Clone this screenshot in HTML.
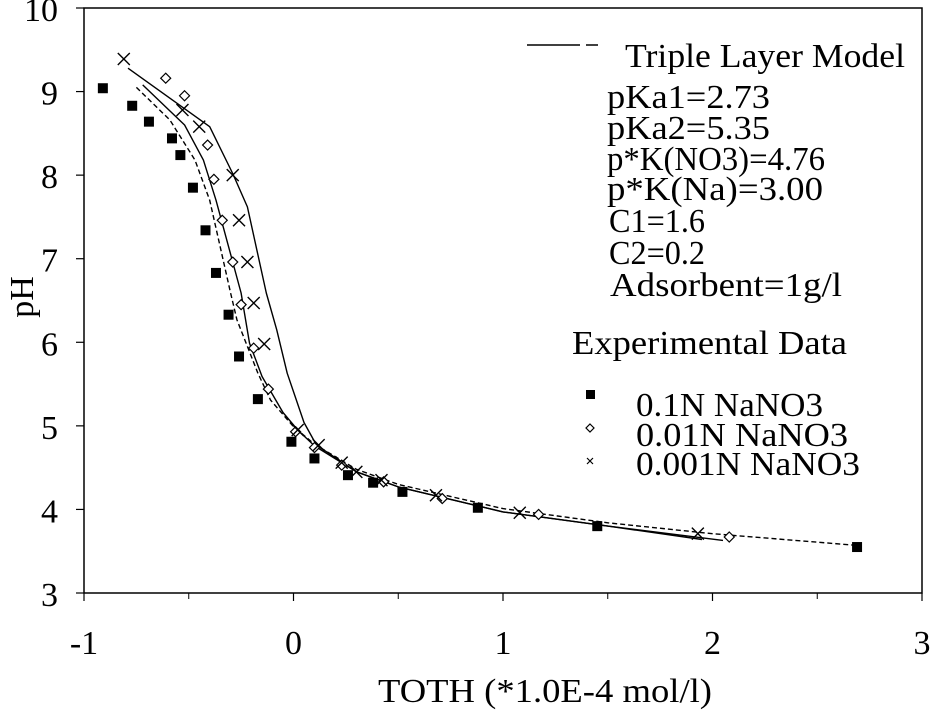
<!DOCTYPE html>
<html><head><meta charset="utf-8">
<style>
html,body{margin:0;padding:0;background:#fff;}
svg{display:block;font-family:"Liberation Serif",serif;}
</style></head>
<body>
<svg id="chart" width="943" height="714" viewBox="0 0 943 714">
<g id="axes"></g>
<g id="curves"></g>
<g id="points"></g>
<g id="legend" font-size="34">
  <line x1="527" y1="45" x2="580" y2="45" stroke="#000" stroke-width="1.5"/>
  <line x1="586" y1="45" x2="598" y2="45" stroke="#000" stroke-width="1.5"/>
  <text x="625" y="67" textLength="280" lengthAdjust="spacingAndGlyphs">Triple Layer Model</text>
  <text x="607" y="108" textLength="163" lengthAdjust="spacingAndGlyphs">pKa1=2.73</text>
  <text x="607" y="139" textLength="163" lengthAdjust="spacingAndGlyphs">pKa2=5.35</text>
  <text x="607" y="170" textLength="218" lengthAdjust="spacingAndGlyphs">p*K(NO3)=4.76</text>
  <text x="607" y="200" textLength="216" lengthAdjust="spacingAndGlyphs">p*K(Na)=3.00</text>
  <text x="609" y="232" textLength="96" lengthAdjust="spacingAndGlyphs">C1=1.6</text>
  <text x="609" y="264" textLength="96" lengthAdjust="spacingAndGlyphs">C2=0.2</text>
  <text x="610" y="296" textLength="232" lengthAdjust="spacingAndGlyphs">Adsorbent=1g/l</text>
  <text x="572" y="354" textLength="275" lengthAdjust="spacingAndGlyphs">Experimental Data</text>
  <rect x="586" y="390" width="9" height="9" fill="#000"/>
  <text x="636" y="416" textLength="187" lengthAdjust="spacingAndGlyphs">0.1N NaNO3</text>
  <path d="M590 424 L594 428 L590 432 L586 428 Z" fill="#fff" stroke="#000" stroke-width="1.2"/>
  <text x="636" y="446" textLength="212" lengthAdjust="spacingAndGlyphs">0.01N NaNO3</text>
  <path d="M587 458 L593 464 M593 458 L587 464" stroke="#000" stroke-width="1.2"/>
  <text x="636" y="475" textLength="224" lengthAdjust="spacingAndGlyphs">0.001N NaNO3</text>
</g>
<text x="378" y="702" font-size="34" textLength="334" lengthAdjust="spacingAndGlyphs">TOTH (*1.0E-4 mol/l)</text>
<text transform="translate(33,297) rotate(-90)" font-size="34" text-anchor="middle">pH</text>
</svg>
<script>
// ---- data ----
const xTicks = [-1, 0, 1, 2, 3];
const yTicks = [3, 4, 5, 6, 7, 8, 9, 10];
const sq_x = [-0.91,-0.77,-0.69,-0.58,-0.54,-0.48,-0.42,-0.37,-0.31,-0.26,-0.17,-0.01,0.10,0.26,0.38,0.52,0.88,1.45,2.69];
const sq_y = [9.04,8.83,8.64,8.44,8.24,7.85,7.34,6.83,6.33,5.83,5.32,4.81,4.61,4.41,4.32,4.21,4.02,3.80,3.55];
const di_x = [-0.61,-0.52,-0.41,-0.38,-0.34,-0.29,-0.25,-0.19,-0.12,0.01,0.10,0.23,0.43,0.71,1.17,2.08];
const di_y = [9.16,8.95,8.36,7.95,7.46,6.96,6.45,5.93,5.44,4.93,4.74,4.53,4.33,4.13,3.94,3.67];
const cx_x = [-0.81,-0.53,-0.45,-0.29,-0.26,-0.22,-0.19,-0.14,0.02,0.12,0.23,0.30,0.42,0.68,1.08,1.93];
const cx_y = [9.39,8.78,8.58,8.00,7.46,6.96,6.47,5.98,4.95,4.77,4.56,4.45,4.35,4.17,3.96,3.71];
const upper_x = [-0.79,-0.40,-0.29,-0.22,-0.13,-0.08,-0.03,0.05,0.11,0.30,0.50,1.00,1.50,1.95];
const upper_y = [9.28,8.58,8.02,7.62,6.59,6.15,5.63,5.04,4.77,4.45,4.27,3.97,3.80,3.64];
const mid_x = [-0.72,-0.52,-0.43,-0.37,-0.25,-0.21,-0.15,-0.05,0.02,0.10,0.30,0.50,1.00,1.50,2.05];
const mid_y = [9.08,8.60,8.18,7.70,6.59,5.99,5.59,5.16,4.95,4.76,4.45,4.27,3.97,3.80,3.63];
const dash_x = [-0.75,-0.59,-0.47,-0.40,-0.30,-0.27,-0.17,-0.11,0.00,0.10,0.30,0.50,1.00,1.50,2.00,2.69];
const dash_y = [9.05,8.66,8.18,7.70,6.59,6.27,5.63,5.31,4.99,4.78,4.48,4.30,4.01,3.84,3.71,3.57];

const NS = "http://www.w3.org/2000/svg";
const X0 = 84, X1 = 922, Y0 = 8, Y1 = 593;
function sx(v){ return X0 + (v + 1) / 4 * (X1 - X0); }
function sy(v){ return Y0 + (10 - v) / 7 * (Y1 - Y0); }
function mk(tag, attrs, parent){
  const e = document.createElementNS(NS, tag);
  for (const k in attrs) e.setAttribute(k, attrs[k]);
  parent.appendChild(e);
  return e;
}
const axes = document.getElementById('axes');
const frame = mk('rect', {x:X0, y:Y0, width:X1-X0, height:Y1-Y0, fill:'none', stroke:'#000', 'stroke-width':1.5}, axes);


xTicks.forEach(function(t, i){
  const ln = mk('line', {x1:sx(t), y1:Y1, x2:sx(t), y2:Y1+8, stroke:'#000', 'stroke-width':1.2}, axes);
  
  
  if (i < xTicks.length - 1) {
    const m = mk('line', {x1:sx(t+0.5), y1:Y1, x2:sx(t+0.5), y2:Y1+6, stroke:'#000', 'stroke-width':1}, axes);
    
    
  }
  const tx = mk('text', {x:sx(t), y:654, 'font-size':34, 'text-anchor':'middle'}, axes);
  tx.textContent = String(t);
  
  
});
yTicks.forEach(function(t){
  const ln = mk('line', {x1:X0-8, y1:sy(t), x2:X0, y2:sy(t), stroke:'#000', 'stroke-width':1.2}, axes);
  
  
  const tx = mk('text', {x:X0-26, y:sy(t)+13, 'font-size':34, 'text-anchor':'end'}, axes);
  tx.textContent = String(t);
  
  
});
const curves = document.getElementById('curves');
function curve(xs, ys, dash, name){
  const d = xs.map(function(v, i){ return (i ? 'L' : 'M') + sx(v).toFixed(1) + ' ' + sy(ys[i]).toFixed(1); }).join(' ');
  const p = mk('path', {d:d, fill:'none', stroke:'#000', 'stroke-width':1.4, 'stroke-linejoin':'round'}, curves);
  if (dash) p.setAttribute('stroke-dasharray', dash);
  
  
}
curve(upper_x, upper_y, null, 'model-curve-0.001n');
curve(mid_x, mid_y, null, 'model-curve-0.01n');
curve(dash_x, dash_y, '5 3', 'model-curve-0.1n');
const pts = document.getElementById('points');
sq_x.forEach(function(v, i){
  const r = mk('rect', {x:sx(v)-5, y:sy(sq_y[i])-5, width:10, height:10, fill:'#000'}, pts);
  
  
});
di_x.forEach(function(v, i){
  const x = sx(v), y = sy(di_y[i]);
  const p = mk('path', {d:'M'+x+' '+(y-5)+' L'+(x+5)+' '+y+' L'+x+' '+(y+5)+' L'+(x-5)+' '+y+' Z', fill:'#fff', stroke:'#000', 'stroke-width':1.2}, pts);
  
  
});
cx_x.forEach(function(v, i){
  const x = sx(v), y = sy(cx_y[i]);
  const p = mk('path', {d:'M'+(x-6)+' '+(y-6)+' L'+(x+6)+' '+(y+6)+' M'+(x+6)+' '+(y-6)+' L'+(x-6)+' '+(y+6), stroke:'#000', 'stroke-width':1.4}, pts);
  
  
});
</script>
</body></html>
